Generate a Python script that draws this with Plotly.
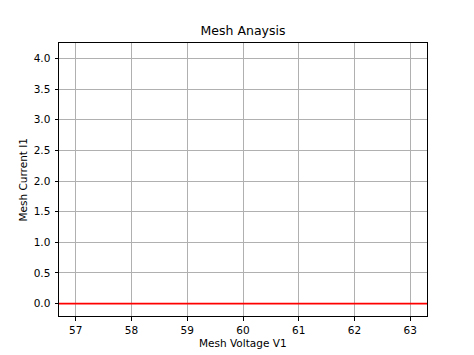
import plotly.graph_objects as go

# Data
x_tick_values = [57, 58, 59, 60, 61, 62, 63]
y_tick_values = [0.0, 0.5, 1.0, 1.5, 2.0, 2.5, 3.0, 3.5, 4.0]
y_tick_labels = ["0.0", "0.5", "1.0", "1.5", "2.0", "2.5", "3.0", "3.5", "4.0"]
x_range = [56.7, 63.3]
y_range = [-0.2025, 4.2525]
current_level = 0.0

W, H = 466, 347  # page body has an 8px margin

fig = go.Figure()
# invisible trace to establish axes
fig.add_trace(go.Scatter(x=x_range, y=y_range, mode="markers",
                         marker=dict(opacity=0), hoverinfo="skip", showlegend=False))
fig.add_hline(y=current_level, line=dict(color="red", width=1.8))

font = dict(family="DejaVu Sans", size=10.5, color="black")
axis_common = dict(showline=True, linecolor="black", linewidth=1, mirror=True,
                   ticks="outside", ticklen=3.5, tickwidth=0.8, tickcolor="black",
                   showgrid=True, gridcolor="#b0b0b0", gridwidth=0.8,
                   zeroline=False, tickfont=font, automargin=False)

fig.update_layout(
    width=W, height=H,
    margin=dict(l=51, r=47, t=35, b=39, pad=0),
    paper_bgcolor="white", plot_bgcolor="white",
    title=dict(text="Mesh Anaysis", x=235/W, xanchor="center", y=1-23/H, yanchor="middle",
               font=dict(family="DejaVu Sans", size=12.5, color="black")),
    xaxis=dict(range=x_range, tickvals=x_tick_values, ticklabelstandoff=1, **axis_common),
    yaxis=dict(range=y_range, tickvals=y_tick_values, ticktext=y_tick_labels,
               ticklabelstandoff=2, **axis_common),
    showlegend=False,
    annotations=[
        dict(text="Mesh Voltage V1", xref="paper", yref="paper", x=0.5, y=0,
             xanchor="center", yanchor="middle", yshift=-26.5, showarrow=False, font=font),
        dict(text="Mesh Current I1", xref="paper", yref="paper", x=0, y=0.5,
             xanchor="center", yanchor="middle", xshift=-37, textangle=-90,
             showarrow=False, font=font),
    ],
)

fig.write_html("out.html")
